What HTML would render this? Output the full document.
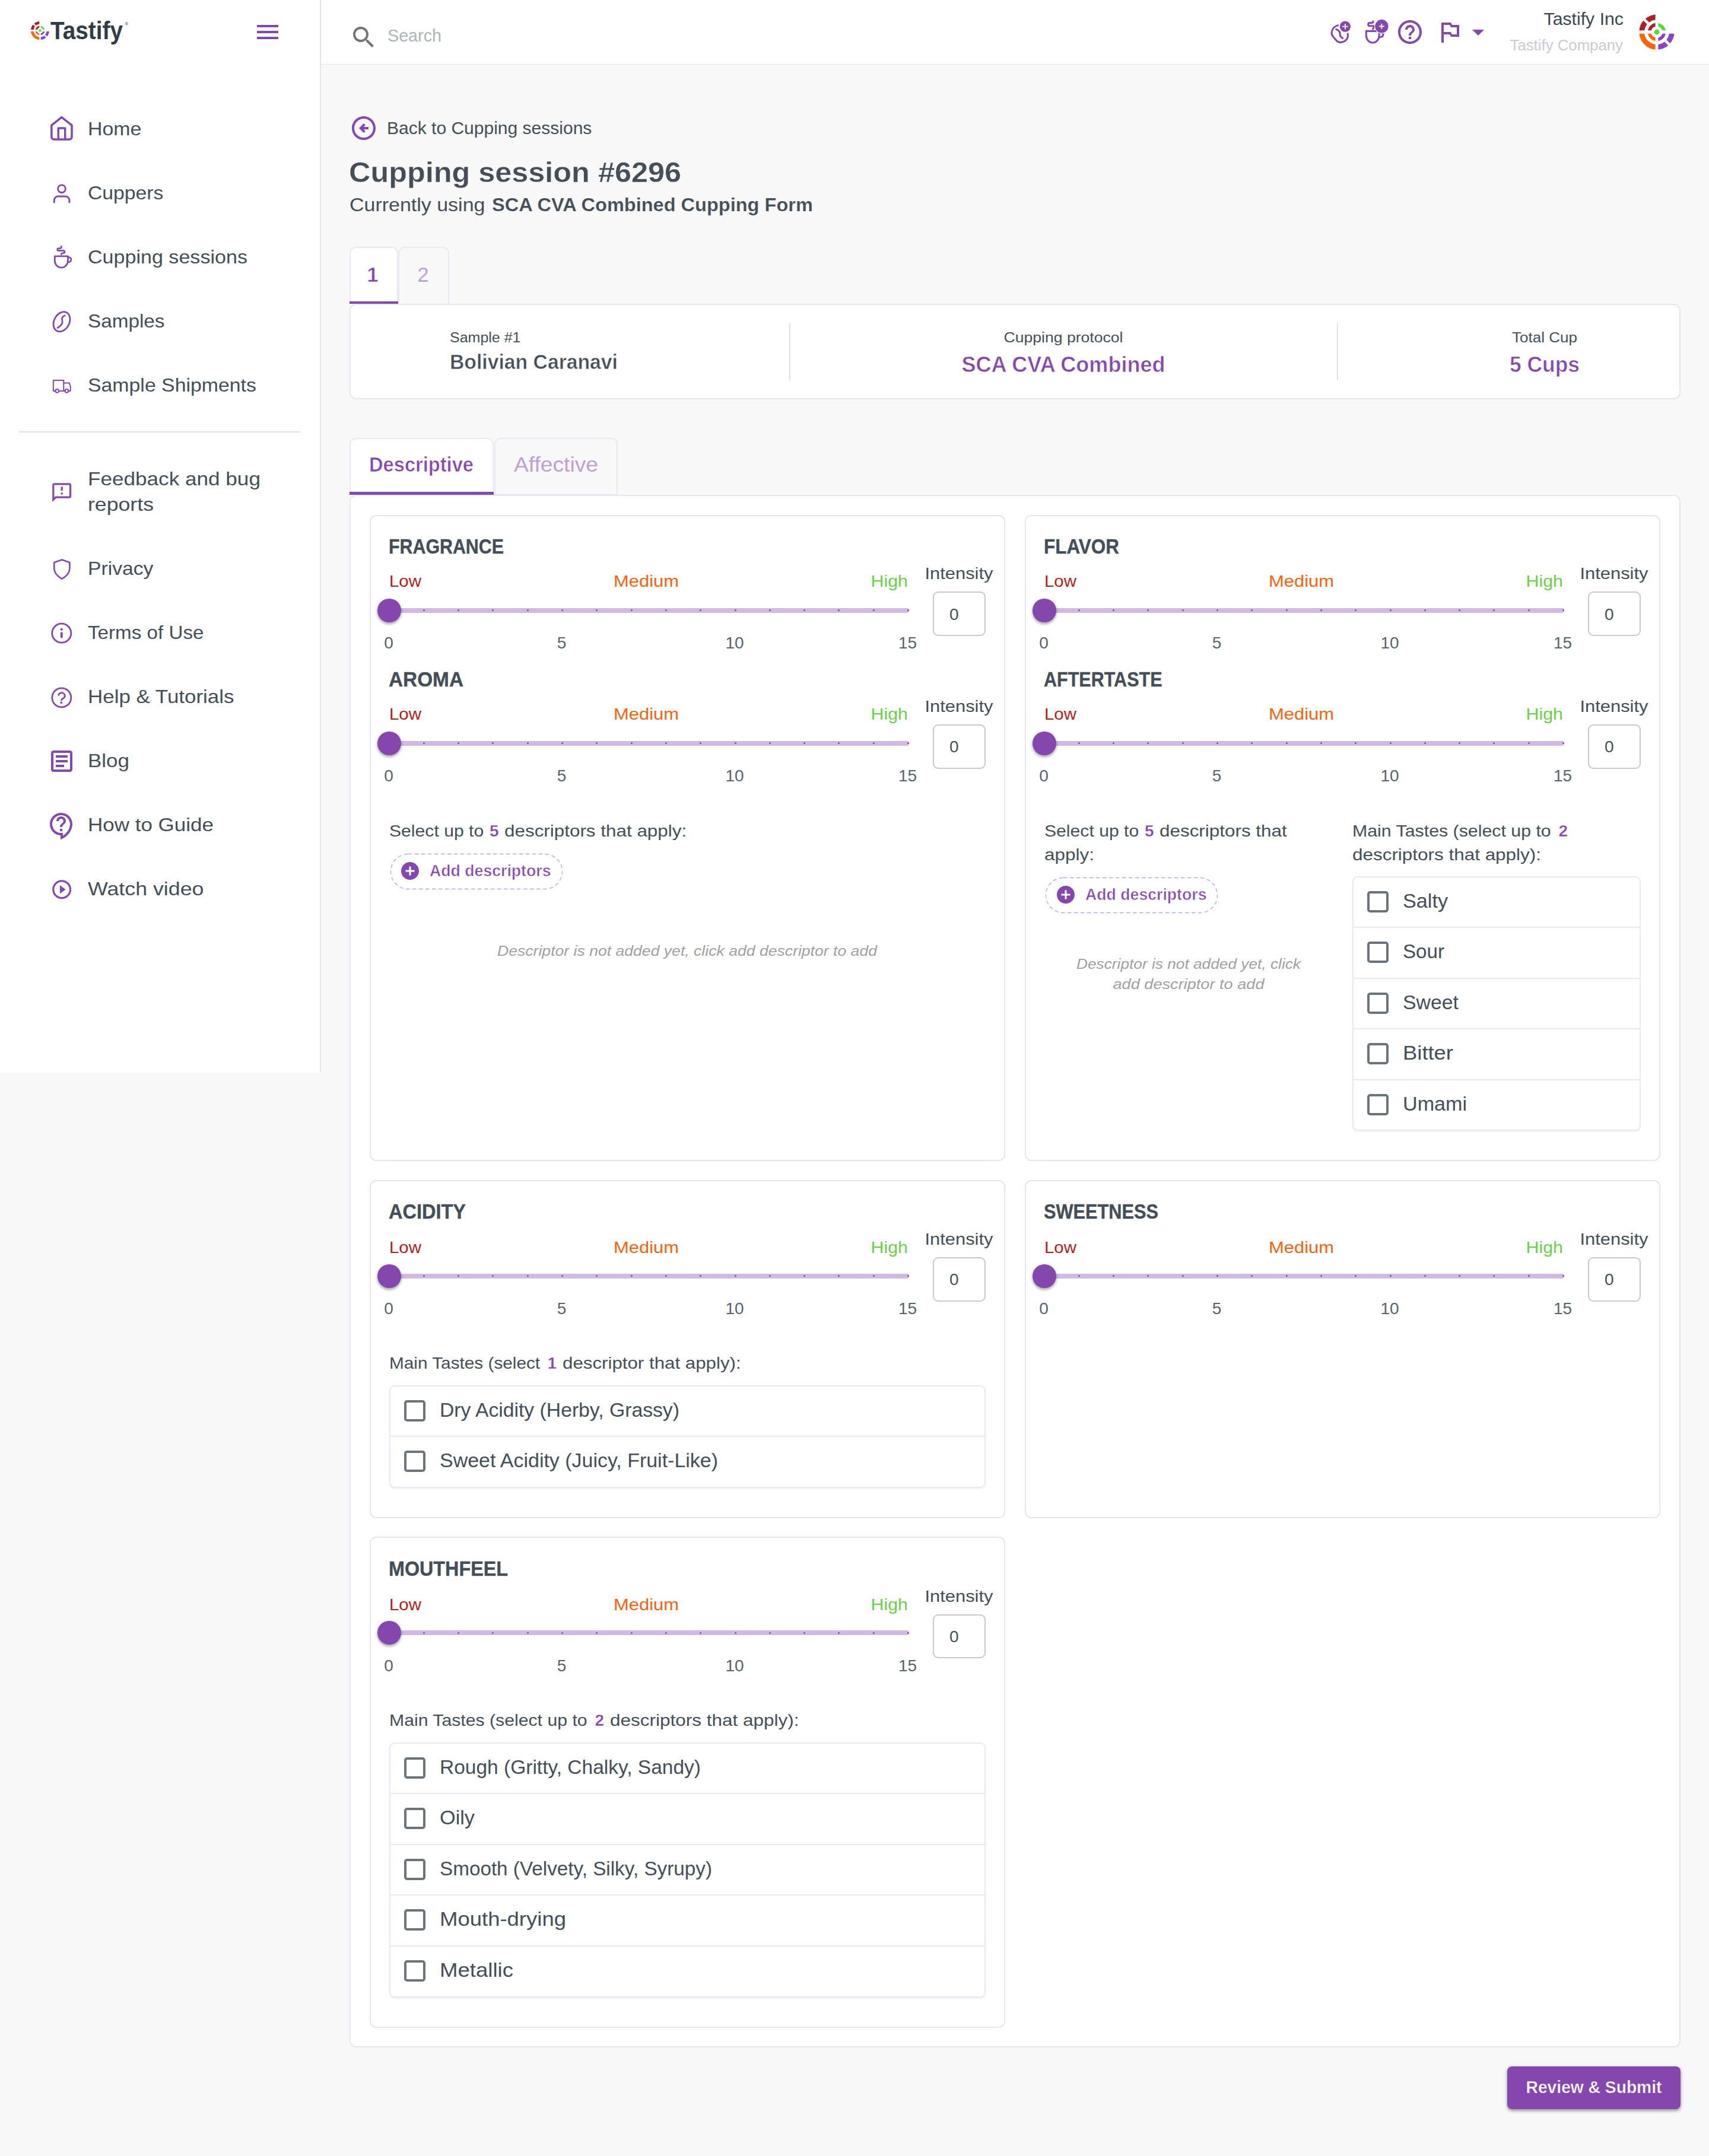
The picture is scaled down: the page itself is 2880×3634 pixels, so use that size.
<!DOCTYPE html>
<html lang="en"><head><meta charset="utf-8"><title>Tastify - Cupping session</title>
<style>
*{box-sizing:border-box;margin:0;padding:0}
html,body{width:2880px;height:3634px;overflow:hidden;background:#f8f8f8}
#app{position:relative;width:2880px;height:3634px;overflow:hidden;background:#f8f8f8}
body{font-family:"Liberation Sans",sans-serif;color:#434e58}
.t{position:absolute;white-space:nowrap;line-height:1}
.dots i{position:absolute;width:3px;height:3px;border-radius:50%;background:#8347ad}
</style></head>
<body>
<div id="app">
<div style="position:absolute;left:0px;top:0px;width:541px;height:1808px;background:#fff;border-right:2px solid #e5e5e5;"></div>
<div style="position:absolute;left:541px;top:0px;width:2339px;height:109px;background:#fff;border-bottom:1px solid #eae3f3;"></div>
<svg style="position:absolute;left:49.7px;top:34.3px;" width="35" height="35" viewBox="-33.31 -33.31 66.61 66.61"><path d="M-25.15 0.00A25.15 25.15 0 0 1 -0.00 -25.15" stroke="#b01e25" stroke-width="8.7" fill="none"/><path d="M0.00 25.15A25.15 25.15 0 0 1 -25.15 0.00" stroke="#f9650f" stroke-width="8.7" fill="none"/><path d="M25.15 0.00A25.15 25.15 0 0 1 0.00 25.15" stroke="#8c45c0" stroke-width="8.7" fill="none"/><path d="M-31 -31L31 31" stroke="#fff" stroke-width="4.7"/><path d="M-12.40 0.00A12.4 12.4 0 0 1 -0.00 -12.40" stroke="#b01e25" stroke-width="5.4" fill="none"/><path d="M-0.00 -12.40A12.4 12.4 0 0 1 12.40 -0.00" stroke="#5fd636" stroke-width="5.4" fill="none"/><path d="M12.40 0.00A12.4 12.4 0 0 1 0.00 12.40" stroke="#8c45c0" stroke-width="5.4" fill="none"/><path d="M0.00 12.40A12.4 12.4 0 0 1 -12.40 0.00" stroke="#f9650f" stroke-width="5.4" fill="none"/><path d="M0 -31V31" stroke="#fff" stroke-width="4.7"/><path d="M-31 0H31" stroke="#fff" stroke-width="5.3"/><circle r="4.4" fill="#5fd636"/></svg>
<div class="t" style="top:30px;font-size:43.4px;font-weight:700;color:#2f3b45;left:84.5px;transform:scaleX(0.8927);transform-origin:0 0;">Tastify</div>
<div class="t" style="top:37px;font-size:7.8px;color:#2f3b45;left:210.5px;">®</div>
<svg style="position:absolute;left:2759.5px;top:21.8px;" width="64" height="64" viewBox="-31.89 -31.89 63.78 63.78"><path d="M-25.15 0.00A25.15 25.15 0 0 1 -0.00 -25.15" stroke="#b01e25" stroke-width="8.7" fill="none"/><path d="M0.00 25.15A25.15 25.15 0 0 1 -25.15 0.00" stroke="#f9650f" stroke-width="8.7" fill="none"/><path d="M25.15 0.00A25.15 25.15 0 0 1 0.00 25.15" stroke="#8c45c0" stroke-width="8.7" fill="none"/><path d="M-31 -31L31 31" stroke="#fff" stroke-width="4.7"/><path d="M-12.40 0.00A12.4 12.4 0 0 1 -0.00 -12.40" stroke="#b01e25" stroke-width="5.4" fill="none"/><path d="M-0.00 -12.40A12.4 12.4 0 0 1 12.40 -0.00" stroke="#5fd636" stroke-width="5.4" fill="none"/><path d="M12.40 0.00A12.4 12.4 0 0 1 0.00 12.40" stroke="#8c45c0" stroke-width="5.4" fill="none"/><path d="M0.00 12.40A12.4 12.4 0 0 1 -12.40 0.00" stroke="#f9650f" stroke-width="5.4" fill="none"/><path d="M0 -31V31" stroke="#fff" stroke-width="4.7"/><path d="M-31 0H31" stroke="#fff" stroke-width="5.3"/><circle r="4.4" fill="#5fd636"/></svg>
<svg style="position:absolute;left:427px;top:30px;" width="48" height="48" viewBox="0 0 24 24"><path fill="#8347ad" d="M3 18h18v-2H3v2zm0-5h18v-2H3v2zm0-7v2h18V6H3z"/></svg>
<svg style="position:absolute;left:589px;top:38.5px;" width="48" height="48" viewBox="0 0 24 24"><path fill="#757575" d="M15.5 14h-.79l-.28-.27C15.41 12.59 16 11.11 16 9.5 16 5.91 13.09 3 9.5 3S3 5.91 3 9.5 5.91 16 9.5 16c1.61 0 3.09-.59 4.23-1.57l.27.28v.79l5 4.99L20.49 19l-4.99-5zm-6 0C7.01 14 5 11.99 5 9.5S7.01 5 9.5 5 14 7.01 14 9.5 11.99 14 9.5 14z"/></svg>
<div class="t" style="top:45px;font-size:29.4px;color:#adb4ba;left:653.0px;transform:scaleX(0.9769);transform-origin:0 0;">Search</div>
<svg style="position:absolute;left:2352px;top:30px;" width="48" height="48" viewBox="0 0 24 24"><path fill="#8347ad" d="M11 18h2v-2h-2v2zm1-16C6.48 2 2 6.48 2 12s4.48 10 10 10 10-4.48 10-10S17.52 2 12 2zm0 18c-4.41 0-8-3.59-8-8s3.59-8 8-8 8 3.59 8 8-3.59 8-8 8zm0-14c-2.21 0-4 1.79-4 4h2c0-1.1.9-2 2-2s2 .9 2 2c0 2-3 1.75-3 5h2c0-2.25 3-2.5 3-5 0-2.21-1.79-4-4-4z"/></svg>
<svg style="position:absolute;left:2419px;top:30px;" width="48" height="48" viewBox="0 0 24 24"><path fill="#8347ad" d="M14 6l-1-2H5v17h2v-7h5l1 2h7V6h-6zm4 8h-4l-1-2H7V6h5l1 2h5v6z"/></svg>
<svg style="position:absolute;left:2467px;top:30px;" width="48" height="48" viewBox="0 0 24 24"><path fill="#8347ad" d="M7 10l5 5 5-5z"/></svg>
<div class="t" style="top:18px;font-size:28.9px;color:#3a4650;left:735.5px;width:2000px;text-align:right;transform:scaleX(1.0468);transform-origin:100% 0;">Tastify Inc</div>
<div class="t" style="top:64px;font-size:25.0px;color:#c8cdd3;left:735.0px;width:2000px;text-align:right;transform:scaleX(1.0309);transform-origin:100% 0;">Tastify Company</div>
<svg style="position:absolute;left:2236px;top:28px;" width="48" height="52" viewBox="2236 28 48 52"><path d="M2254.700 42.700C2249 44 2245 48.500 2244.200 54C2243.600 57.500 2244.500 59.500 2246.300 61.400L2252.100 68.200C2254 70.300 2256.500 71.500 2259.200 71.400C2265 71.300 2270 67.500 2271.100 62.500C2271.600 60.500 2271.600 58.500 2271.300 56.900" fill="none" stroke="#8347ad" stroke-width="3.1" stroke-linecap="round" stroke-linejoin="round"/><path d="M2251.800 49.500C2256 51 2258 53.500 2258 56.500C2258 59.500 2258.500 62.500 2262.700 64.300" fill="none" stroke="#8347ad" stroke-width="3.1" stroke-linecap="round" stroke-linejoin="round"/><circle cx="2266.900" cy="44.700" r="10.800" fill="#fff"/><circle cx="2266.900" cy="44.700" r="9.100" fill="#8347ad"/><path d="M2262.200 44.700h9.400M2266.900 40v9.400" stroke="#fff" stroke-width="1.800"/></svg>
<svg style="position:absolute;left:2294px;top:28px;" width="52" height="52" viewBox="2294 28 52 52"><path d="M2302.300 52.400H2324.200V59C2324.200 66.500 2319.500 72 2313.200 72C2307 72 2302.300 66.500 2302.300 59Z" fill="none" stroke="#8347ad" stroke-width="3.1" stroke-linecap="round" stroke-linejoin="round"/><path d="M2325 55C2330 54.500 2331.500 57 2331 58.500C2330.500 61 2328.500 62.500 2325.500 62.700" fill="none" stroke="#8347ad" stroke-width="3.1" stroke-linecap="round" stroke-linejoin="round"/><path d="M2313.900 35.700V37C2313.900 38.300 2312.500 38.600 2311 38.600H2308.200A2.550 2.550 0 0 0 2308.200 43.700H2317M2315.200 46.300C2314 47 2313.600 48 2313.600 49" fill="none" stroke="#8347ad" stroke-width="3.1" stroke-linecap="round" stroke-linejoin="round"/><circle cx="2328.400" cy="44.300" r="12.300" fill="#fff"/><circle cx="2328.400" cy="44.300" r="11.200" fill="#8347ad"/><path d="M2324 44.300h8.800M2328.400 39.900v8.800" stroke="#fff" stroke-width="1.800"/></svg>
<svg style="position:absolute;left:80px;top:190px;" width="48" height="52" viewBox="80 190 48 52"><path d="M86.900 211.100L103.900 197.700L121 211.100V231a4 4 0 0 1 -4 4H90.900a4 4 0 0 1 -4 -4Z" fill="none" stroke="#8347ad" stroke-linecap="round" stroke-linejoin="round" stroke-width="3.500"/><path d="M98.300 235V216H109.700V235" fill="none" stroke="#8347ad" stroke-linecap="round" stroke-linejoin="round" stroke-width="3.500"/></svg>
<svg style="position:absolute;left:80px;top:300px;" width="48" height="52" viewBox="80 300 48 52"><circle cx="104" cy="318.300" r="6.400" fill="none" stroke="#8347ad" stroke-linecap="round" stroke-linejoin="round" stroke-width="2.900"/><path d="M91.300 341V337.500a6.500 6.500 0 0 1 6.500 -6.500H110.400a6.500 6.500 0 0 1 6.500 6.500V341" fill="none" stroke="#8347ad" stroke-linecap="round" stroke-linejoin="round" stroke-width="2.900"/></svg>
<svg style="position:absolute;left:80px;top:408px;" width="48" height="52" viewBox="80 408 48 52"><path d="M92.300 431.900H114.400V439C114.400 446 109.500 451.100 103.400 451.100C97.200 451.100 92.300 446 92.300 439Z" fill="none" stroke="#8347ad" stroke-linecap="round" stroke-linejoin="round" stroke-width="2.700"/><path d="M114.600 433.700c7 -0.700 7 8 0.200 8.200" fill="none" stroke="#8347ad" stroke-linecap="round" stroke-linejoin="round" stroke-width="2.700"/><path d="M103.400 415.300v1c0 1.500 -1.300 2.300 -3 2.300h-1.800a1.900 1.900 0 0 0 0 3.800h8.300a2.050 2.050 0 0 1 0 4.100h-0.500c-1.700 0 -3 1 -3 2.500" fill="none" stroke="#8347ad" stroke-linecap="round" stroke-linejoin="round" stroke-width="2.700"/></svg>
<svg style="position:absolute;left:80px;top:516px;" width="48" height="52" viewBox="80 516 48 52"><ellipse cx="104" cy="542.300" rx="12.800" ry="17.500" transform="rotate(28 104 542.300)" fill="none" stroke="#8347ad" stroke-linecap="round" stroke-linejoin="round" stroke-width="2.800"/><path d="M109.300 532C105.500 533.200 104 535.500 104.600 539C105.500 543 105.500 545 102.400 548.400C100.800 550.300 99 551.500 97 552.500" fill="none" stroke="#8347ad" stroke-linecap="round" stroke-linejoin="round" stroke-width="2.800"/></svg>
<svg style="position:absolute;left:80px;top:624px;" width="48" height="52" viewBox="80 624 48 52"><path d="M93.400 658.900H89.900V641.100H107.300V658.900M107.300 645.400H116.700L118.750 651.500V658.900H115.200M109.600 658.900H99" fill="none" stroke="#8347ad" stroke-linecap="round" stroke-linejoin="round" stroke-width="2" stroke-linecap="butt" stroke-linejoin="miter"/><circle cx="96.200" cy="658.900" r="2.800" fill="none" stroke="#8347ad" stroke-linecap="round" stroke-linejoin="round" stroke-width="2"/><circle cx="112.400" cy="658.900" r="2.800" fill="none" stroke="#8347ad" stroke-linecap="round" stroke-linejoin="round" stroke-width="2"/></svg>
<svg style="position:absolute;left:84.8px;top:810.8px;" width="38.4" height="38.4" viewBox="0 0 24 24"><path fill="#8347ad" d="M20 2H4c-1.1 0-1.99.9-1.99 2L2 22l4-4h14c1.1 0 2-.9 2-2V4c0-1.1-.9-2-2-2zm0 14H5.17l-.59.59-.58.58V4h16v12zm-9-4h2v2h-2zm0-6h2v4h-2z"/></svg>
<svg style="position:absolute;left:80px;top:932px;" width="48" height="52" viewBox="80 932 48 52"><path d="M104.400 943.400L117.400 948V958C117.400 966 111 972 104.400 975.600C97.800 972 91.300 966 91.300 958V948Z" fill="none" stroke="#8347ad" stroke-linecap="round" stroke-linejoin="round" stroke-width="2.600"/></svg>
<svg style="position:absolute;left:80px;top:1042px;" width="48" height="52" viewBox="80 1042 48 52"><circle cx="103.800" cy="1067.200" r="16" fill="none" stroke="#8347ad" stroke-linecap="round" stroke-linejoin="round" stroke-width="2.800"/><path d="M103.800 1067.200V1073.500" fill="none" stroke="#8347ad" stroke-linecap="round" stroke-linejoin="round" stroke-width="3.800"/><circle cx="103.800" cy="1060.800" r="2.100" fill="#8347ad"/></svg>
<svg style="position:absolute;left:80px;top:1150px;" width="48" height="52" viewBox="80 1150 48 52"><circle cx="103.800" cy="1175.900" r="16" fill="none" stroke="#8347ad" stroke-linecap="round" stroke-linejoin="round" stroke-width="2.800"/><path d="M98.700 1171.400a5.500 5.500 0 0 1 10.700 1.800c0 3.700 -5.700 4.200 -5.900 6.800" fill="none" stroke="#8347ad" stroke-linecap="round" stroke-linejoin="round" stroke-width="2.800"/><circle cx="103.400" cy="1184.300" r="1.900" fill="#8347ad"/></svg>
<svg style="position:absolute;left:80px;top:1259px;" width="48" height="48" viewBox="0 0 24 24"><path fill="#8347ad" d="M19 5v14H5V5h14m0-2H5c-1.1 0-2 .9-2 2v14c0 1.1.9 2 2 2h14c1.1 0 2-.9 2-2V5c0-1.1-.9-2-2-2zM14 17H7v-2h7v2zm3-4H7v-2h10v2zm0-4H7V7h10v2z"/></svg>
<svg style="position:absolute;left:80px;top:1368px;" width="48" height="48" viewBox="0 0 24 24"><path fill="#8347ad" d="M11 23.59v-3.6c-5.01-.26-9-4.42-9-9.49C2 5.26 6.26 1 11.5 1S21 5.26 21 10.5c0 4.95-3.44 9.93-8.57 12.4l-1.43.69zM11.5 3C7.36 3 4 6.36 4 10.5S7.36 18 11.5 18H13v2.3c3.64-2.3 6-6.08 6-9.8C19 6.36 15.64 3 11.5 3zm-1 11.5h2v2h-2zm2-1.5h-2c0-3.25 3-3 3-5 0-1.1-.9-2-2-2s-2 .9-2 2h-2c0-2.21 1.79-4 4-4s4 1.79 4 4c0 2.5-3 2.75-3 5z"/></svg>
<svg style="position:absolute;left:84.7px;top:1479.9px;" width="38.4" height="38.4" viewBox="0 0 24 24"><path fill="#8347ad" d="M10 16.5l6-4.5-6-4.5v9zM12 2C6.48 2 2 6.48 2 12s4.48 10 10 10 10-4.48 10-10S17.52 2 12 2zm0 18c-4.41 0-8-3.59-8-8s3.59-8 8-8 8 3.59 8 8-3.59 8-8 8z"/></svg>
<div class="t" style="top:202px;font-size:31.4px;left:148.0px;transform:scaleX(1.0805);transform-origin:0 0;">Home</div>
<div class="t" style="top:310px;font-size:31.4px;left:148.0px;transform:scaleX(1.0743);transform-origin:0 0;">Cuppers</div>
<div class="t" style="top:418px;font-size:31.4px;left:148.0px;transform:scaleX(1.0853);transform-origin:0 0;">Cupping sessions</div>
<div class="t" style="top:526px;font-size:31.4px;left:148.0px;transform:scaleX(1.0600);transform-origin:0 0;">Samples</div>
<div class="t" style="top:634px;font-size:31.4px;left:148.0px;transform:scaleX(1.0776);transform-origin:0 0;">Sample Shipments</div>
<div style="position:absolute;left:32px;top:727px;width:475px;height:2px;background:#e3e3e6;"></div>
<div class="t" style="top:792px;font-size:31.4px;left:148.0px;transform:scaleX(1.1187);transform-origin:0 0;">Feedback and bug</div>
<div class="t" style="top:835px;font-size:31.4px;left:148.0px;transform:scaleX(1.1358);transform-origin:0 0;">reports</div>
<div class="t" style="top:943px;font-size:31.4px;left:148.0px;transform:scaleX(1.0734);transform-origin:0 0;">Privacy</div>
<div class="t" style="top:1051px;font-size:31.4px;left:148.0px;transform:scaleX(1.0570);transform-origin:0 0;">Terms of Use</div>
<div class="t" style="top:1159px;font-size:31.4px;left:148.0px;transform:scaleX(1.1122);transform-origin:0 0;">Help &amp; Tutorials</div>
<div class="t" style="top:1267px;font-size:31.4px;left:148.0px;transform:scaleX(1.1138);transform-origin:0 0;">Blog</div>
<div class="t" style="top:1375px;font-size:31.4px;left:148.0px;transform:scaleX(1.1144);transform-origin:0 0;">How to Guide</div>
<div class="t" style="top:1483px;font-size:31.4px;left:148.0px;transform:scaleX(1.1392);transform-origin:0 0;">Watch video</div>
<svg style="position:absolute;left:588.8px;top:191.8px;" width="48" height="48" viewBox="0 0 24 24"><path fill="#8347ad" d="M2 12c0 5.52 4.48 10 10 10s10-4.48 10-10S17.52 2 12 2 2 6.48 2 12zm18 0c0 4.42-3.58 8-8 8s-8-3.58-8-8 3.58-8 8-8 8 3.58 8 8zM8 12l4-4 1.41 1.41L11.83 11H16v2h-4.17l1.59 1.59L12 16l-4-4z"/></svg>
<div class="t" style="top:201px;font-size:29.4px;left:652.0px;transform:scaleX(1.0213);transform-origin:0 0;">Back to Cupping sessions</div>
<div class="t" style="top:266px;font-size:49.0px;font-weight:700;-webkit-text-stroke:0.35px #f8f8f8;left:588.0px;transform:scaleX(1.0282);transform-origin:0 0;">Cupping session #6296</div>
<div class="t" style="top:330px;font-size:31.4px;left:589.0px;transform:scaleX(1.0821);transform-origin:0 0;">Currently using</div>
<div class="t" style="top:330px;font-size:31.4px;font-weight:700;-webkit-text-stroke:0.2px #f8f8f8;left:828.5px;transform:scaleX(1.0361);transform-origin:0 0;">SCA CVA Combined Cupping Form</div>
<div style="position:absolute;left:589px;top:416px;width:82px;height:97px;background:#fff;border:2px solid #ece8f3;border-bottom:none;border-radius:11px 11px 0 0;"></div>
<div style="position:absolute;left:671px;top:416px;width:86px;height:97px;background:#f8f8f8;border:2px solid #ece8f3;border-bottom:none;border-radius:11px 11px 0 0;"></div>
<div style="position:absolute;left:589px;top:508px;width:82px;height:4px;background:#8347ad;"></div>
<div class="t" style="top:446px;font-size:34.3px;font-weight:700;-webkit-text-stroke:0.5px #fff;color:#8347ad;left:-372.0px;width:2000px;text-align:center;">1</div>
<div class="t" style="top:446px;font-size:34.3px;color:#bf9fd6;left:-287.0px;width:2000px;text-align:center;">2</div>
<div style="position:absolute;left:589px;top:512px;width:2243px;height:161px;background:#fff;border:2px solid #e9e5f0;border-radius:11px;"></div>
<div class="t" style="top:558px;font-size:23.5px;left:757.5px;transform:scaleX(1.0637);transform-origin:0 0;">Sample #1</div>
<div class="t" style="top:593px;font-size:34.3px;font-weight:700;-webkit-text-stroke:0.57px #fff;left:757.5px;transform:scaleX(0.9832);transform-origin:0 0;">Bolivian Caranavi</div>
<div style="position:absolute;left:1330px;top:545px;width:2px;height:96px;background:#e2e2e6;"></div>
<div style="position:absolute;left:2253px;top:545px;width:2px;height:96px;background:#e2e2e6;"></div>
<div class="t" style="top:558px;font-size:23.5px;left:792.3px;width:2000px;text-align:center;transform:scaleX(1.1313);">Cupping protocol</div>
<div class="t" style="top:597px;font-size:36.3px;font-weight:700;-webkit-text-stroke:0.63px #fff;color:#8347ad;left:792.1px;width:2000px;text-align:center;transform:scaleX(0.9927);">SCA CVA Combined</div>
<div class="t" style="top:558px;font-size:23.5px;left:1602.6px;width:2000px;text-align:center;transform:scaleX(1.1080);">Total Cup</div>
<div class="t" style="top:597px;font-size:36.3px;font-weight:700;-webkit-text-stroke:0.63px #fff;color:#8347ad;left:1603.0px;width:2000px;text-align:center;transform:scaleX(0.9750);">5 Cups</div>
<div style="position:absolute;left:833px;top:738px;width:208px;height:96px;background:#f8f8f8;border:2px solid #ece8f3;border-bottom:none;border-radius:11px 11px 0 0;"></div>
<div style="position:absolute;left:589px;top:738px;width:243px;height:96px;background:#fff;border:2px solid #ece8f3;border-bottom:none;border-radius:11px 11px 0 0;"></div>
<div style="position:absolute;left:589px;top:833px;width:452px;height:1px;background:#e9e5f0;"></div>
<div class="t" style="top:766px;font-size:34.3px;font-weight:700;-webkit-text-stroke:0.57px #fff;color:#8347ad;left:622.0px;transform:scaleX(0.9517);transform-origin:0 0;">Descriptive</div>
<div class="t" style="top:766px;font-size:34.3px;color:#bf9fd6;left:865.5px;transform:scaleX(1.0846);transform-origin:0 0;">Affective</div>
<div style="position:absolute;left:589px;top:834px;width:2243px;height:2617px;background:#fff;border:2px solid #e9e5f0;border-radius:11px;"></div>
<div style="position:absolute;left:589px;top:829px;width:243px;height:4.5px;background:#8347ad;"></div>
<div style="position:absolute;left:623px;top:868px;width:1071px;height:1089px;background:#fff;border:2px solid #e9e5f0;border-radius:11px;"></div>
<div style="position:absolute;left:1727px;top:868px;width:1071px;height:1089px;background:#fff;border:2px solid #e9e5f0;border-radius:11px;"></div>
<div style="position:absolute;left:623px;top:1989px;width:1071px;height:570px;background:#fff;border:2px solid #e9e5f0;border-radius:11px;"></div>
<div style="position:absolute;left:1727px;top:1989px;width:1071px;height:570px;background:#fff;border:2px solid #e9e5f0;border-radius:11px;"></div>
<div style="position:absolute;left:623px;top:2590px;width:1071px;height:828px;background:#fff;border:2px solid #e9e5f0;border-radius:11px;"></div>
<div class="t" style="top:903px;font-size:35.3px;font-weight:700;-webkit-text-stroke:0.4px #434e58;left:655.0px;transform:scaleX(0.8602);transform-origin:0 0;">FRAGRANCE</div>
<div class="t" style="top:966px;font-size:28.0px;color:#b71c1c;left:655.5px;transform:scaleX(1.0513);transform-origin:0 0;">Low</div>
<div class="t" style="top:966px;font-size:28.0px;color:#ff6108;left:88.5px;width:2000px;text-align:center;transform:scaleX(1.1046);">Medium</div>
<div class="t" style="top:966px;font-size:28.0px;color:#68d246;left:-470.5px;width:2000px;text-align:right;transform:scaleX(1.0853);transform-origin:100% 0;">High</div>
<div class="t" style="top:953px;font-size:28.0px;left:615.7px;width:2000px;text-align:center;transform:scaleX(1.1028);">Intensity</div>
<div style="position:absolute;left:652px;top:1024.6px;width:880px;height:8px;background:#d0b9e2;border-radius:4px;"></div>
<div class="dots"><i style="left:712.8px;top:1027.1px"></i><i style="left:771.1px;top:1027.1px"></i><i style="left:829.4px;top:1027.1px"></i><i style="left:887.7px;top:1027.1px"></i><i style="left:946.0px;top:1027.1px"></i><i style="left:1004.3px;top:1027.1px"></i><i style="left:1062.6px;top:1027.1px"></i><i style="left:1120.9px;top:1027.1px"></i><i style="left:1179.2px;top:1027.1px"></i><i style="left:1237.5px;top:1027.1px"></i><i style="left:1295.8px;top:1027.1px"></i><i style="left:1354.1px;top:1027.1px"></i><i style="left:1412.4px;top:1027.1px"></i><i style="left:1470.7px;top:1027.1px"></i><i style="left:1529.0px;top:1027.1px"></i></div>
<div style="position:absolute;left:636px;top:1008.5999999999999px;width:40px;height:40px;background:#8347ad;border-radius:50%;box-shadow:0 3px 4px rgba(0,0,0,.28),0 1px 6px rgba(0,0,0,.14);"></div>
<div class="t" style="top:1070px;font-size:28.0px;color:#57626c;left:-345.0px;width:2000px;text-align:center;">0</div>
<div class="t" style="top:1070px;font-size:28.0px;color:#57626c;left:-53.5px;width:2000px;text-align:center;">5</div>
<div class="t" style="top:1070px;font-size:28.0px;color:#57626c;left:238.0px;width:2000px;text-align:center;">10</div>
<div class="t" style="top:1070px;font-size:28.0px;color:#57626c;left:529.5px;width:2000px;text-align:center;">15</div>
<div style="position:absolute;left:1571.6px;top:997.3px;width:89px;height:74.5px;background:#fff;border:2px solid #c9c9c9;border-radius:9px;"></div>
<div class="t" style="top:1022px;font-size:28.0px;left:607.8px;width:2000px;text-align:center;">0</div>
<div class="t" style="top:1127px;font-size:35.3px;font-weight:700;-webkit-text-stroke:0.4px #434e58;left:655.0px;transform:scaleX(0.9449);transform-origin:0 0;">AROMA</div>
<div class="t" style="top:1190px;font-size:28.0px;color:#b71c1c;left:655.5px;transform:scaleX(1.0513);transform-origin:0 0;">Low</div>
<div class="t" style="top:1190px;font-size:28.0px;color:#ff6108;left:88.5px;width:2000px;text-align:center;transform:scaleX(1.1046);">Medium</div>
<div class="t" style="top:1190px;font-size:28.0px;color:#68d246;left:-470.5px;width:2000px;text-align:right;transform:scaleX(1.0853);transform-origin:100% 0;">High</div>
<div class="t" style="top:1177px;font-size:28.0px;left:615.7px;width:2000px;text-align:center;transform:scaleX(1.1028);">Intensity</div>
<div style="position:absolute;left:652px;top:1248.5px;width:880px;height:8px;background:#d0b9e2;border-radius:4px;"></div>
<div class="dots"><i style="left:712.8px;top:1251.0px"></i><i style="left:771.1px;top:1251.0px"></i><i style="left:829.4px;top:1251.0px"></i><i style="left:887.7px;top:1251.0px"></i><i style="left:946.0px;top:1251.0px"></i><i style="left:1004.3px;top:1251.0px"></i><i style="left:1062.6px;top:1251.0px"></i><i style="left:1120.9px;top:1251.0px"></i><i style="left:1179.2px;top:1251.0px"></i><i style="left:1237.5px;top:1251.0px"></i><i style="left:1295.8px;top:1251.0px"></i><i style="left:1354.1px;top:1251.0px"></i><i style="left:1412.4px;top:1251.0px"></i><i style="left:1470.7px;top:1251.0px"></i><i style="left:1529.0px;top:1251.0px"></i></div>
<div style="position:absolute;left:636px;top:1232.5px;width:40px;height:40px;background:#8347ad;border-radius:50%;box-shadow:0 3px 4px rgba(0,0,0,.28),0 1px 6px rgba(0,0,0,.14);"></div>
<div class="t" style="top:1294px;font-size:28.0px;color:#57626c;left:-345.0px;width:2000px;text-align:center;">0</div>
<div class="t" style="top:1294px;font-size:28.0px;color:#57626c;left:-53.5px;width:2000px;text-align:center;">5</div>
<div class="t" style="top:1294px;font-size:28.0px;color:#57626c;left:238.0px;width:2000px;text-align:center;">10</div>
<div class="t" style="top:1294px;font-size:28.0px;color:#57626c;left:529.5px;width:2000px;text-align:center;">15</div>
<div style="position:absolute;left:1571.6px;top:1221.2px;width:89px;height:74.5px;background:#fff;border:2px solid #c9c9c9;border-radius:9px;"></div>
<div class="t" style="top:1245px;font-size:28.0px;left:607.8px;width:2000px;text-align:center;">0</div>
<div class="t" style="top:1387px;font-size:28.0px;left:656.0px;transform:scaleX(1.0766);transform-origin:0 0;">Select up to</div>
<div class="t" style="top:1387px;font-size:28.0px;font-weight:700;-webkit-text-stroke:0.35px #fff;color:#8347ad;left:825.0px;transform:scaleX(1.0000);transform-origin:0 0;">5</div>
<div class="t" style="top:1387px;font-size:28.0px;left:850.4px;transform:scaleX(1.1215);transform-origin:0 0;">descriptors that apply:</div>
<svg style="position:absolute;left:656.5px;top:1437.5px;" width="292" height="62" viewBox="-1 -1 292 62"><rect x="0.5" y="0.5" width="289" height="59" rx="29.5" fill="none" stroke="#c4a0df" stroke-width="1.3" stroke-dasharray="6.5 4.5"/></svg>
<svg style="position:absolute;left:672.8px;top:1449.5px;" width="36" height="36" viewBox="0 0 24 24"><path fill="#8347ad" d="M12 2C6.48 2 2 6.48 2 12s4.48 10 10 10 10-4.48 10-10S17.52 2 12 2zm5 11h-4v4h-2v-4H7v-2h4V7h2v4h4v2z"/></svg>
<div class="t" style="top:1454px;font-size:28.0px;font-weight:700;-webkit-text-stroke:0.6px #fff;color:#8347ad;left:724.0px;transform:scaleX(0.9525);transform-origin:0 0;">Add descriptors</div>
<div class="t" style="top:1592px;font-size:23.5px;font-style:italic;color:#a0a0a0;left:158.0px;width:2000px;text-align:center;transform:scaleX(1.1315);">Descriptor is not added yet, click add descriptor to add</div>
<div class="t" style="top:903px;font-size:35.3px;font-weight:700;-webkit-text-stroke:0.4px #434e58;left:1759.0px;transform:scaleX(0.8913);transform-origin:0 0;">FLAVOR</div>
<div class="t" style="top:966px;font-size:28.0px;color:#b71c1c;left:1759.5px;transform:scaleX(1.0513);transform-origin:0 0;">Low</div>
<div class="t" style="top:966px;font-size:28.0px;color:#ff6108;left:1192.5px;width:2000px;text-align:center;transform:scaleX(1.1046);">Medium</div>
<div class="t" style="top:966px;font-size:28.0px;color:#68d246;left:633.5px;width:2000px;text-align:right;transform:scaleX(1.0853);transform-origin:100% 0;">High</div>
<div class="t" style="top:953px;font-size:28.0px;left:1719.7px;width:2000px;text-align:center;transform:scaleX(1.1028);">Intensity</div>
<div style="position:absolute;left:1756px;top:1024.6px;width:880px;height:8px;background:#d0b9e2;border-radius:4px;"></div>
<div class="dots"><i style="left:1816.8px;top:1027.1px"></i><i style="left:1875.1px;top:1027.1px"></i><i style="left:1933.4px;top:1027.1px"></i><i style="left:1991.7px;top:1027.1px"></i><i style="left:2050.0px;top:1027.1px"></i><i style="left:2108.3px;top:1027.1px"></i><i style="left:2166.6px;top:1027.1px"></i><i style="left:2224.9px;top:1027.1px"></i><i style="left:2283.2px;top:1027.1px"></i><i style="left:2341.5px;top:1027.1px"></i><i style="left:2399.8px;top:1027.1px"></i><i style="left:2458.1px;top:1027.1px"></i><i style="left:2516.4px;top:1027.1px"></i><i style="left:2574.7px;top:1027.1px"></i><i style="left:2633.0px;top:1027.1px"></i></div>
<div style="position:absolute;left:1740px;top:1008.5999999999999px;width:40px;height:40px;background:#8347ad;border-radius:50%;box-shadow:0 3px 4px rgba(0,0,0,.28),0 1px 6px rgba(0,0,0,.14);"></div>
<div class="t" style="top:1070px;font-size:28.0px;color:#57626c;left:759.0px;width:2000px;text-align:center;">0</div>
<div class="t" style="top:1070px;font-size:28.0px;color:#57626c;left:1050.5px;width:2000px;text-align:center;">5</div>
<div class="t" style="top:1070px;font-size:28.0px;color:#57626c;left:1342.0px;width:2000px;text-align:center;">10</div>
<div class="t" style="top:1070px;font-size:28.0px;color:#57626c;left:1633.5px;width:2000px;text-align:center;">15</div>
<div style="position:absolute;left:2675.6px;top:997.3px;width:89px;height:74.5px;background:#fff;border:2px solid #c9c9c9;border-radius:9px;"></div>
<div class="t" style="top:1022px;font-size:28.0px;left:1711.8px;width:2000px;text-align:center;">0</div>
<div class="t" style="top:1127px;font-size:35.3px;font-weight:700;-webkit-text-stroke:0.4px #434e58;left:1759.0px;transform:scaleX(0.8646);transform-origin:0 0;">AFTERTASTE</div>
<div class="t" style="top:1190px;font-size:28.0px;color:#b71c1c;left:1759.5px;transform:scaleX(1.0513);transform-origin:0 0;">Low</div>
<div class="t" style="top:1190px;font-size:28.0px;color:#ff6108;left:1192.5px;width:2000px;text-align:center;transform:scaleX(1.1046);">Medium</div>
<div class="t" style="top:1190px;font-size:28.0px;color:#68d246;left:633.5px;width:2000px;text-align:right;transform:scaleX(1.0853);transform-origin:100% 0;">High</div>
<div class="t" style="top:1177px;font-size:28.0px;left:1719.7px;width:2000px;text-align:center;transform:scaleX(1.1028);">Intensity</div>
<div style="position:absolute;left:1756px;top:1248.5px;width:880px;height:8px;background:#d0b9e2;border-radius:4px;"></div>
<div class="dots"><i style="left:1816.8px;top:1251.0px"></i><i style="left:1875.1px;top:1251.0px"></i><i style="left:1933.4px;top:1251.0px"></i><i style="left:1991.7px;top:1251.0px"></i><i style="left:2050.0px;top:1251.0px"></i><i style="left:2108.3px;top:1251.0px"></i><i style="left:2166.6px;top:1251.0px"></i><i style="left:2224.9px;top:1251.0px"></i><i style="left:2283.2px;top:1251.0px"></i><i style="left:2341.5px;top:1251.0px"></i><i style="left:2399.8px;top:1251.0px"></i><i style="left:2458.1px;top:1251.0px"></i><i style="left:2516.4px;top:1251.0px"></i><i style="left:2574.7px;top:1251.0px"></i><i style="left:2633.0px;top:1251.0px"></i></div>
<div style="position:absolute;left:1740px;top:1232.5px;width:40px;height:40px;background:#8347ad;border-radius:50%;box-shadow:0 3px 4px rgba(0,0,0,.28),0 1px 6px rgba(0,0,0,.14);"></div>
<div class="t" style="top:1294px;font-size:28.0px;color:#57626c;left:759.0px;width:2000px;text-align:center;">0</div>
<div class="t" style="top:1294px;font-size:28.0px;color:#57626c;left:1050.5px;width:2000px;text-align:center;">5</div>
<div class="t" style="top:1294px;font-size:28.0px;color:#57626c;left:1342.0px;width:2000px;text-align:center;">10</div>
<div class="t" style="top:1294px;font-size:28.0px;color:#57626c;left:1633.5px;width:2000px;text-align:center;">15</div>
<div style="position:absolute;left:2675.6px;top:1221.2px;width:89px;height:74.5px;background:#fff;border:2px solid #c9c9c9;border-radius:9px;"></div>
<div class="t" style="top:1245px;font-size:28.0px;left:1711.8px;width:2000px;text-align:center;">0</div>
<div class="t" style="top:1387px;font-size:28.0px;left:1760.0px;transform:scaleX(1.0766);transform-origin:0 0;">Select up to</div>
<div class="t" style="top:1387px;font-size:28.0px;font-weight:700;-webkit-text-stroke:0.35px #fff;color:#8347ad;left:1929.0px;transform:scaleX(1.0000);transform-origin:0 0;">5</div>
<div class="t" style="top:1387px;font-size:28.0px;left:1954.4px;transform:scaleX(1.1216);transform-origin:0 0;">descriptors that</div>
<div class="t" style="top:1427px;font-size:28.0px;left:1760.0px;transform:scaleX(1.1242);transform-origin:0 0;">apply:</div>
<svg style="position:absolute;left:1761.3px;top:1477.5px;" width="292" height="62" viewBox="-1 -1 292 62"><rect x="0.5" y="0.5" width="289" height="59" rx="29.5" fill="none" stroke="#c4a0df" stroke-width="1.3" stroke-dasharray="6.5 4.5"/></svg>
<svg style="position:absolute;left:1777.6px;top:1489.5px;" width="36" height="36" viewBox="0 0 24 24"><path fill="#8347ad" d="M12 2C6.48 2 2 6.48 2 12s4.48 10 10 10 10-4.48 10-10S17.52 2 12 2zm5 11h-4v4h-2v-4H7v-2h4V7h2v4h4v2z"/></svg>
<div class="t" style="top:1494px;font-size:28.0px;font-weight:700;-webkit-text-stroke:0.6px #fff;color:#8347ad;left:1828.8px;transform:scaleX(0.9525);transform-origin:0 0;">Add descriptors</div>
<div class="t" style="top:1614px;font-size:23.5px;font-style:italic;color:#a0a0a0;left:1002.7px;width:2000px;text-align:center;transform:scaleX(1.1174);">Descriptor is not added yet, click</div>
<div class="t" style="top:1648px;font-size:23.5px;font-style:italic;color:#a0a0a0;left:1002.7px;width:2000px;text-align:center;transform:scaleX(1.1550);">add descriptor to add</div>
<div class="t" style="top:1387px;font-size:28.0px;left:2279.0px;transform:scaleX(1.0825);transform-origin:0 0;">Main Tastes (select up to</div>
<div class="t" style="top:1387px;font-size:28.0px;font-weight:700;-webkit-text-stroke:0.35px #fff;color:#8347ad;left:2626.5px;transform:scaleX(1.0000);transform-origin:0 0;">2</div>
<div class="t" style="top:1427px;font-size:28.0px;left:2279.0px;transform:scaleX(1.1227);transform-origin:0 0;">descriptors that apply):</div>
<div style="position:absolute;left:2279px;top:1477px;width:485.5px;height:429px;background:#fff;border:2px solid #ece8f3;border-radius:9px;box-shadow:0 2px 2px rgba(131,71,173,.09);"></div>
<div style="position:absolute;left:2303.5px;top:1502px;width:36px;height:36px;border:4px solid #6a747c;border-radius:5px;"></div>
<div class="t" style="top:1502px;font-size:33.3px;left:2364.0px;transform:scaleX(1.0266);transform-origin:0 0;">Salty</div>
<div style="position:absolute;left:2281px;top:1562px;width:481.5px;height:2px;background:#ece8f3;"></div>
<div style="position:absolute;left:2303.5px;top:1587px;width:36px;height:36px;border:4px solid #6a747c;border-radius:5px;"></div>
<div class="t" style="top:1587px;font-size:33.3px;left:2364.0px;transform:scaleX(0.9952);transform-origin:0 0;">Sour</div>
<div style="position:absolute;left:2281px;top:1648px;width:481.5px;height:2px;background:#ece8f3;"></div>
<div style="position:absolute;left:2303.5px;top:1673px;width:36px;height:36px;border:4px solid #6a747c;border-radius:5px;"></div>
<div class="t" style="top:1673px;font-size:33.3px;left:2364.0px;transform:scaleX(1.0157);transform-origin:0 0;">Sweet</div>
<div style="position:absolute;left:2281px;top:1733px;width:481.5px;height:2px;background:#ece8f3;"></div>
<div style="position:absolute;left:2303.5px;top:1758px;width:36px;height:36px;border:4px solid #6a747c;border-radius:5px;"></div>
<div class="t" style="top:1758px;font-size:33.3px;left:2364.0px;transform:scaleX(1.0936);transform-origin:0 0;">Bitter</div>
<div style="position:absolute;left:2281px;top:1819px;width:481.5px;height:2px;background:#ece8f3;"></div>
<div style="position:absolute;left:2303.5px;top:1844px;width:36px;height:36px;border:4px solid #6a747c;border-radius:5px;"></div>
<div class="t" style="top:1844px;font-size:33.3px;left:2364.0px;transform:scaleX(1.0242);transform-origin:0 0;">Umami</div>
<div class="t" style="top:2024px;font-size:35.3px;font-weight:700;-webkit-text-stroke:0.4px #434e58;left:655.0px;transform:scaleX(0.9207);transform-origin:0 0;">ACIDITY</div>
<div class="t" style="top:2089px;font-size:28.0px;color:#b71c1c;left:655.5px;transform:scaleX(1.0513);transform-origin:0 0;">Low</div>
<div class="t" style="top:2089px;font-size:28.0px;color:#ff6108;left:88.5px;width:2000px;text-align:center;transform:scaleX(1.1046);">Medium</div>
<div class="t" style="top:2089px;font-size:28.0px;color:#68d246;left:-470.5px;width:2000px;text-align:right;transform:scaleX(1.0853);transform-origin:100% 0;">High</div>
<div class="t" style="top:2075px;font-size:28.0px;left:615.7px;width:2000px;text-align:center;transform:scaleX(1.1028);">Intensity</div>
<div style="position:absolute;left:652px;top:2146.5px;width:880px;height:8px;background:#d0b9e2;border-radius:4px;"></div>
<div class="dots"><i style="left:712.8px;top:2149.0px"></i><i style="left:771.1px;top:2149.0px"></i><i style="left:829.4px;top:2149.0px"></i><i style="left:887.7px;top:2149.0px"></i><i style="left:946.0px;top:2149.0px"></i><i style="left:1004.3px;top:2149.0px"></i><i style="left:1062.6px;top:2149.0px"></i><i style="left:1120.9px;top:2149.0px"></i><i style="left:1179.2px;top:2149.0px"></i><i style="left:1237.5px;top:2149.0px"></i><i style="left:1295.8px;top:2149.0px"></i><i style="left:1354.1px;top:2149.0px"></i><i style="left:1412.4px;top:2149.0px"></i><i style="left:1470.7px;top:2149.0px"></i><i style="left:1529.0px;top:2149.0px"></i></div>
<div style="position:absolute;left:636px;top:2130.5px;width:40px;height:40px;background:#8347ad;border-radius:50%;box-shadow:0 3px 4px rgba(0,0,0,.28),0 1px 6px rgba(0,0,0,.14);"></div>
<div class="t" style="top:2192px;font-size:28.0px;color:#57626c;left:-345.0px;width:2000px;text-align:center;">0</div>
<div class="t" style="top:2192px;font-size:28.0px;color:#57626c;left:-53.5px;width:2000px;text-align:center;">5</div>
<div class="t" style="top:2192px;font-size:28.0px;color:#57626c;left:238.0px;width:2000px;text-align:center;">10</div>
<div class="t" style="top:2192px;font-size:28.0px;color:#57626c;left:529.5px;width:2000px;text-align:center;">15</div>
<div style="position:absolute;left:1571.6px;top:2119.2px;width:89px;height:74.5px;background:#fff;border:2px solid #c9c9c9;border-radius:9px;"></div>
<div class="t" style="top:2143px;font-size:28.0px;left:607.8px;width:2000px;text-align:center;">0</div>
<div class="t" style="top:2024px;font-size:35.3px;font-weight:700;-webkit-text-stroke:0.4px #434e58;left:1759.0px;transform:scaleX(0.8708);transform-origin:0 0;">SWEETNESS</div>
<div class="t" style="top:2089px;font-size:28.0px;color:#b71c1c;left:1759.5px;transform:scaleX(1.0513);transform-origin:0 0;">Low</div>
<div class="t" style="top:2089px;font-size:28.0px;color:#ff6108;left:1192.5px;width:2000px;text-align:center;transform:scaleX(1.1046);">Medium</div>
<div class="t" style="top:2089px;font-size:28.0px;color:#68d246;left:633.5px;width:2000px;text-align:right;transform:scaleX(1.0853);transform-origin:100% 0;">High</div>
<div class="t" style="top:2075px;font-size:28.0px;left:1719.7px;width:2000px;text-align:center;transform:scaleX(1.1028);">Intensity</div>
<div style="position:absolute;left:1756px;top:2146.5px;width:880px;height:8px;background:#d0b9e2;border-radius:4px;"></div>
<div class="dots"><i style="left:1816.8px;top:2149.0px"></i><i style="left:1875.1px;top:2149.0px"></i><i style="left:1933.4px;top:2149.0px"></i><i style="left:1991.7px;top:2149.0px"></i><i style="left:2050.0px;top:2149.0px"></i><i style="left:2108.3px;top:2149.0px"></i><i style="left:2166.6px;top:2149.0px"></i><i style="left:2224.9px;top:2149.0px"></i><i style="left:2283.2px;top:2149.0px"></i><i style="left:2341.5px;top:2149.0px"></i><i style="left:2399.8px;top:2149.0px"></i><i style="left:2458.1px;top:2149.0px"></i><i style="left:2516.4px;top:2149.0px"></i><i style="left:2574.7px;top:2149.0px"></i><i style="left:2633.0px;top:2149.0px"></i></div>
<div style="position:absolute;left:1740px;top:2130.5px;width:40px;height:40px;background:#8347ad;border-radius:50%;box-shadow:0 3px 4px rgba(0,0,0,.28),0 1px 6px rgba(0,0,0,.14);"></div>
<div class="t" style="top:2192px;font-size:28.0px;color:#57626c;left:759.0px;width:2000px;text-align:center;">0</div>
<div class="t" style="top:2192px;font-size:28.0px;color:#57626c;left:1050.5px;width:2000px;text-align:center;">5</div>
<div class="t" style="top:2192px;font-size:28.0px;color:#57626c;left:1342.0px;width:2000px;text-align:center;">10</div>
<div class="t" style="top:2192px;font-size:28.0px;color:#57626c;left:1633.5px;width:2000px;text-align:center;">15</div>
<div style="position:absolute;left:2675.6px;top:2119.2px;width:89px;height:74.5px;background:#fff;border:2px solid #c9c9c9;border-radius:9px;"></div>
<div class="t" style="top:2143px;font-size:28.0px;left:1711.8px;width:2000px;text-align:center;">0</div>
<div class="t" style="top:2284px;font-size:28.0px;left:656.0px;transform:scaleX(1.0626);transform-origin:0 0;">Main Tastes (select</div>
<div class="t" style="top:2284px;font-size:28.0px;font-weight:700;-webkit-text-stroke:0.35px #fff;color:#8347ad;left:922.4px;transform:scaleX(1.0000);transform-origin:0 0;">1</div>
<div class="t" style="top:2284px;font-size:28.0px;left:947.8px;transform:scaleX(1.1165);transform-origin:0 0;">descriptor that apply):</div>
<div style="position:absolute;left:656px;top:2335px;width:1005px;height:173px;background:#fff;border:2px solid #ece8f3;border-radius:9px;box-shadow:0 2px 2px rgba(131,71,173,.09);"></div>
<div style="position:absolute;left:680.5px;top:2360px;width:36px;height:36px;border:4px solid #6a747c;border-radius:5px;"></div>
<div class="t" style="top:2360px;font-size:33.3px;left:741.0px;transform:scaleX(1.0124);transform-origin:0 0;">Dry Acidity (Herby, Grassy)</div>
<div style="position:absolute;left:658px;top:2420px;width:1001px;height:2px;background:#ece8f3;"></div>
<div style="position:absolute;left:680.5px;top:2445px;width:36px;height:36px;border:4px solid #6a747c;border-radius:5px;"></div>
<div class="t" style="top:2445px;font-size:33.3px;left:741.0px;transform:scaleX(1.0192);transform-origin:0 0;">Sweet Acidity (Juicy, Fruit-Like)</div>
<div class="t" style="top:2626px;font-size:35.3px;font-weight:700;-webkit-text-stroke:0.4px #434e58;left:655.0px;transform:scaleX(0.9152);transform-origin:0 0;">MOUTHFEEL</div>
<div class="t" style="top:2691px;font-size:28.0px;color:#b71c1c;left:655.5px;transform:scaleX(1.0513);transform-origin:0 0;">Low</div>
<div class="t" style="top:2691px;font-size:28.0px;color:#ff6108;left:88.5px;width:2000px;text-align:center;transform:scaleX(1.1046);">Medium</div>
<div class="t" style="top:2691px;font-size:28.0px;color:#68d246;left:-470.5px;width:2000px;text-align:right;transform:scaleX(1.0853);transform-origin:100% 0;">High</div>
<div class="t" style="top:2677px;font-size:28.0px;left:615.7px;width:2000px;text-align:center;transform:scaleX(1.1028);">Intensity</div>
<div style="position:absolute;left:652px;top:2748px;width:880px;height:8px;background:#d0b9e2;border-radius:4px;"></div>
<div class="dots"><i style="left:712.8px;top:2750.5px"></i><i style="left:771.1px;top:2750.5px"></i><i style="left:829.4px;top:2750.5px"></i><i style="left:887.7px;top:2750.5px"></i><i style="left:946.0px;top:2750.5px"></i><i style="left:1004.3px;top:2750.5px"></i><i style="left:1062.6px;top:2750.5px"></i><i style="left:1120.9px;top:2750.5px"></i><i style="left:1179.2px;top:2750.5px"></i><i style="left:1237.5px;top:2750.5px"></i><i style="left:1295.8px;top:2750.5px"></i><i style="left:1354.1px;top:2750.5px"></i><i style="left:1412.4px;top:2750.5px"></i><i style="left:1470.7px;top:2750.5px"></i><i style="left:1529.0px;top:2750.5px"></i></div>
<div style="position:absolute;left:636px;top:2732px;width:40px;height:40px;background:#8347ad;border-radius:50%;box-shadow:0 3px 4px rgba(0,0,0,.28),0 1px 6px rgba(0,0,0,.14);"></div>
<div class="t" style="top:2794px;font-size:28.0px;color:#57626c;left:-345.0px;width:2000px;text-align:center;">0</div>
<div class="t" style="top:2794px;font-size:28.0px;color:#57626c;left:-53.5px;width:2000px;text-align:center;">5</div>
<div class="t" style="top:2794px;font-size:28.0px;color:#57626c;left:238.0px;width:2000px;text-align:center;">10</div>
<div class="t" style="top:2794px;font-size:28.0px;color:#57626c;left:529.5px;width:2000px;text-align:center;">15</div>
<div style="position:absolute;left:1571.6px;top:2720.7px;width:89px;height:74.5px;background:#fff;border:2px solid #c9c9c9;border-radius:9px;"></div>
<div class="t" style="top:2745px;font-size:28.0px;left:607.8px;width:2000px;text-align:center;">0</div>
<div class="t" style="top:2886px;font-size:28.0px;left:656.0px;transform:scaleX(1.0789);transform-origin:0 0;">Main Tastes (select up to</div>
<div class="t" style="top:2886px;font-size:28.0px;font-weight:700;-webkit-text-stroke:0.35px #fff;color:#8347ad;left:1002.4px;transform:scaleX(1.0000);transform-origin:0 0;">2</div>
<div class="t" style="top:2886px;font-size:28.0px;left:1027.8px;transform:scaleX(1.1241);transform-origin:0 0;">descriptors that apply):</div>
<div style="position:absolute;left:656px;top:2936.5px;width:1005px;height:430px;background:#fff;border:2px solid #ece8f3;border-radius:9px;box-shadow:0 2px 2px rgba(131,71,173,.09);"></div>
<div style="position:absolute;left:680.5px;top:2962px;width:36px;height:36px;border:4px solid #6a747c;border-radius:5px;"></div>
<div class="t" style="top:2962px;font-size:33.3px;left:741.0px;transform:scaleX(1.0060);transform-origin:0 0;">Rough (Gritty, Chalky, Sandy)</div>
<div style="position:absolute;left:658px;top:3022px;width:1001px;height:2px;background:#ece8f3;"></div>
<div style="position:absolute;left:680.5px;top:3047px;width:36px;height:36px;border:4px solid #6a747c;border-radius:5px;"></div>
<div class="t" style="top:3047px;font-size:33.3px;left:741.0px;transform:scaleX(1.0288);transform-origin:0 0;">Oily</div>
<div style="position:absolute;left:658px;top:3108px;width:1001px;height:2px;background:#ece8f3;"></div>
<div style="position:absolute;left:680.5px;top:3133px;width:36px;height:36px;border:4px solid #6a747c;border-radius:5px;"></div>
<div class="t" style="top:3133px;font-size:33.3px;left:741.0px;transform:scaleX(0.9988);transform-origin:0 0;">Smooth (Velvety, Silky, Syrupy)</div>
<div style="position:absolute;left:658px;top:3193px;width:1001px;height:2px;background:#ece8f3;"></div>
<div style="position:absolute;left:680.5px;top:3218px;width:36px;height:36px;border:4px solid #6a747c;border-radius:5px;"></div>
<div class="t" style="top:3218px;font-size:33.3px;left:741.0px;transform:scaleX(1.0960);transform-origin:0 0;">Mouth-drying</div>
<div style="position:absolute;left:658px;top:3279px;width:1001px;height:2px;background:#ece8f3;"></div>
<div style="position:absolute;left:680.5px;top:3304px;width:36px;height:36px;border:4px solid #6a747c;border-radius:5px;"></div>
<div class="t" style="top:3304px;font-size:33.3px;left:741.0px;transform:scaleX(1.0985);transform-origin:0 0;">Metallic</div>
<div style="position:absolute;left:2539.5px;top:3483px;width:292.5px;height:72px;background:#8347ad;border-radius:8px;box-shadow:0 3px 5px rgba(0,0,0,.32),0 1px 8px rgba(0,0,0,.12);"></div>
<div class="t" style="top:3503px;font-size:29.4px;font-weight:700;-webkit-text-stroke:0.4px #8347ad;color:#fff;left:1685.8px;width:2000px;text-align:center;transform:scaleX(0.9601);">Review &amp; Submit</div>
</div>
</body></html>
